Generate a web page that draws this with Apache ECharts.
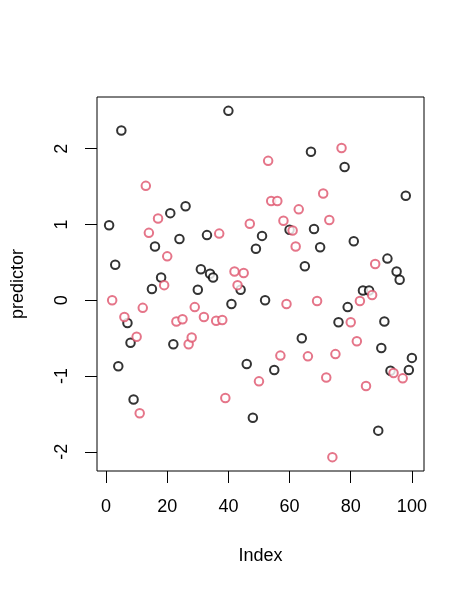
<!DOCTYPE html>
<html>
<head>
<meta charset="utf-8">
<script src="https://cdn.jsdelivr.net/npm/echarts@6/dist/echarts.min.js"></script>
<style>
html,body{margin:0;padding:0;background:#fff;}
#chart{width:474px;height:592px;}
</style>
</head>
<body>
<div id="chart"></div>
<script>
// values of "predictor" for Index 1..100
var predictor = [
  0.99, 0.00, 0.47, -0.87, 2.24, -0.22, -0.30, -0.56, -1.31, -0.48,
  -1.49, -0.10, 1.51, 0.89, 0.15, 0.71, 1.08, 0.30, 0.20, 0.58,
  1.15, -0.58, -0.28, 0.81, -0.25, 1.24, -0.58, -0.49, -0.09, 0.14,
  0.41, -0.22, 0.86, 0.35, 0.30, -0.27, 0.88, -0.26, -1.29, 2.50,
  -0.05, 0.38, 0.20, 0.14, 0.36, -0.84, 1.01, -1.55, 0.68, -1.07,
  0.85, 0.00, 1.84, 1.31, -0.92, 1.31, -0.73, 1.05, -0.05, 0.93,
  0.92, 0.71, 1.20, -0.50, 0.45, -0.74, 1.96, 0.94, -0.01, 0.70,
  1.41, -1.02, 1.06, -2.07, -0.71, -0.29, 2.01, 1.76, -0.09, -0.29,
  0.78, -0.54, -0.01, 0.13, -1.13, 0.13, 0.07, 0.48, -1.72, -0.63,
  -0.28, 0.55, -0.93, -0.96, 0.38, 0.27, -1.03, 1.38, -0.92, -0.76
];
// point colour group: 1 = black, 2 = red
var group = [
  1,2,1,1,1,2,1,1,1,2,
  2,2,2,2,1,1,2,1,2,2,
  1,1,2,1,2,1,2,2,2,1,
  1,2,1,1,1,2,2,2,2,1,
  1,2,2,1,2,1,2,1,1,2,
  1,1,2,2,1,2,2,2,2,1,
  2,2,2,1,1,2,1,1,2,1,
  2,2,2,2,2,1,2,1,1,2,
  1,2,2,1,2,1,2,2,1,1,
  1,1,1,2,1,1,2,1,1,1
];
var xTicks = [0, 20, 40, 60, 80, 100];
var yTicks = [-2, -1, 0, 1, 2];

var blackPts = [], redPts = [];
for (var i = 0; i < predictor.length; i++) {
  var p = [i + 1, predictor[i]];
  if (group[i] === 1) blackPts.push(p); else redPts.push(p);
}
var n = predictor.length;
var xr = n - 1;
var xMin = 1 - 0.04 * xr, xMax = n + 0.04 * xr;
var yLo = Math.min.apply(null, predictor), yHi = Math.max.apply(null, predictor);
var yr = yHi - yLo;
var yMin = yLo - 0.04 * yr, yMax = yHi + 0.04 * yr;

var FONT = 'Liberation Sans';
var chart = echarts.init(document.getElementById('chart'), null, {renderer: 'canvas'});
chart.setOption({
  animation: false,
  backgroundColor: '#ffffff',
  grid: {left: 97, top: 97, width: 327, height: 374, show: true, borderColor: '#000', borderWidth: 1, backgroundColor: 'transparent'},
  xAxis: {
    type: 'value', min: xMin, max: xMax,
    name: 'Index', nameLocation: 'middle', nameGap: 76,
    nameTextStyle: {fontFamily: FONT, fontSize: 18, color: '#000'},
    axisLine: {show: false, onZero: false},
    splitLine: {show: false},
    axisTick: {show: true, inside: false, length: 12, customValues: xTicks, lineStyle: {color: '#000', width: 1}},
    axisLabel: {show: true, customValues: xTicks, margin: 27, fontFamily: FONT, fontSize: 18, color: '#000',
      formatter: function (v) { return String(v); }}
  },
  yAxis: {
    type: 'value', min: yMin, max: yMax,
    name: 'predictor', nameLocation: 'middle', nameGap: 70, nameRotate: 90,
    nameTextStyle: {fontFamily: FONT, fontSize: 18, color: '#000'},
    axisLine: {show: false, onZero: false},
    splitLine: {show: false},
    axisTick: {show: true, inside: false, length: 12, customValues: yTicks, lineStyle: {color: '#000', width: 1}},
    axisLabel: {show: true, customValues: yTicks, rotate: 90, margin: 26, fontFamily: FONT, fontSize: 18, color: '#000',
      formatter: function (v) { return String(v); }}
  },
  series: [
    {type: 'scatter', data: blackPts, symbol: 'emptyCircle', symbolSize: 8.5,
     itemStyle: {color: '#000000', borderColor: '#000000', borderWidth: 1.1}},
    {type: 'scatter', data: redPts, symbol: 'emptyCircle', symbolSize: 8.5,
     itemStyle: {color: '#DF536B', borderColor: '#DF536B', borderWidth: 1.1}}
  ]
});
</script>
</body>
</html>
